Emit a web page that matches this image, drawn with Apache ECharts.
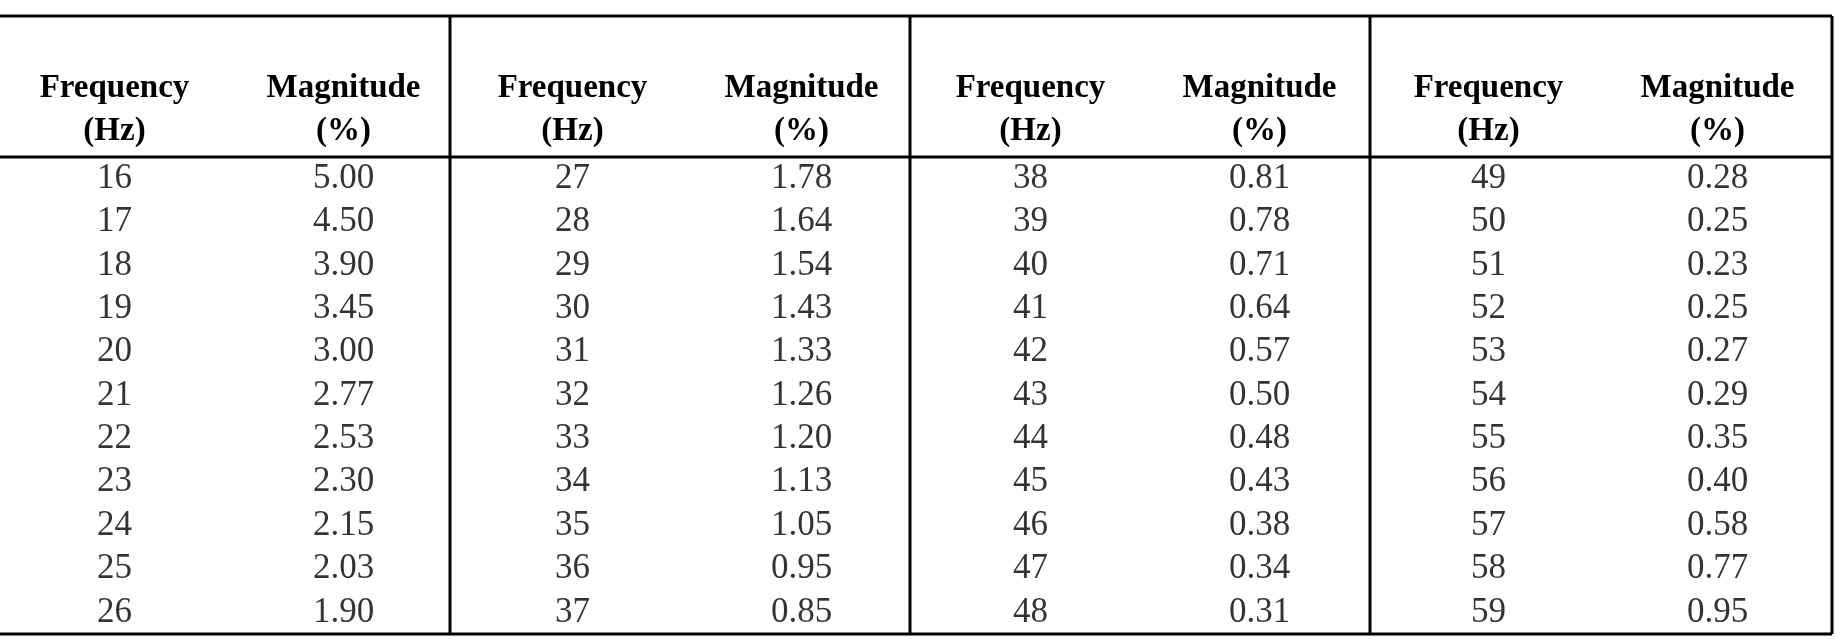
<!DOCTYPE html>
<html>
<head>
<meta charset="utf-8">
<script src="https://cdn.jsdelivr.net/npm/echarts@6/dist/echarts.min.js"></script>
<style>html,body{margin:0;padding:0;background:#fff}#main{width:1840px;height:639px}</style>
</head>
<body>
<div id="main"></div>
<script>
var headers = ['Frequency\n(Hz)', 'Magnitude\n(%)', 'Frequency\n(Hz)', 'Magnitude\n(%)',
               'Frequency\n(Hz)', 'Magnitude\n(%)', 'Frequency\n(Hz)', 'Magnitude\n(%)'];
var freq1 = [16, 17, 18, 19, 20, 21, 22, 23, 24, 25, 26];
var mag1 = [5.00, 4.50, 3.90, 3.45, 3.00, 2.77, 2.53, 2.30, 2.15, 2.03, 1.90];
var freq2 = [27, 28, 29, 30, 31, 32, 33, 34, 35, 36, 37];
var mag2 = [1.78, 1.64, 1.54, 1.43, 1.33, 1.26, 1.20, 1.13, 1.05, 0.95, 0.85];
var freq3 = [38, 39, 40, 41, 42, 43, 44, 45, 46, 47, 48];
var mag3 = [0.81, 0.78, 0.71, 0.64, 0.57, 0.50, 0.48, 0.43, 0.38, 0.34, 0.31];
var freq4 = [49, 50, 51, 52, 53, 54, 55, 56, 57, 58, 59];
var mag4 = [0.28, 0.25, 0.23, 0.25, 0.27, 0.29, 0.35, 0.40, 0.58, 0.77, 0.95];

var columns = [freq1, mag1, freq2, mag2, freq3, mag3, freq4, mag4];
var rows = freq1.map(function (v, i) { return 'r' + i; });

var cells = [];
columns.forEach(function (col, c) {
    col.forEach(function (v, r) {
        cells.push({ value: [c, r], label: c % 2 ? v.toFixed(2) : String(v) });
    });
});

var myChart = echarts.init(document.getElementById('main'));
var line = function (x1, y1, x2, y2) {
    return { type: 'line', shape: { x1: x1, y1: y1, x2: x2, y2: y2 }, style: { stroke: '#000', lineWidth: 3 } };
};
var option = {
    animation: false,
    grid: { left: -16, width: 1848, top: 157, height: 477 },
    xAxis: {
        type: 'category', position: 'top', data: headers.map(function (h, i) { return i; }),
        axisLine: { show: false }, axisTick: { show: false }, splitLine: { show: false },
        axisLabel: {
            formatter: function (v) { return headers[v]; },
            fontFamily: 'Liberation Serif', fontWeight: 'bold', fontSize: 33, color: '#000',
            lineHeight: 43, margin: 4
        }
    },
    yAxis: { type: 'category', inverse: true, data: rows, show: false },
    series: [{
        type: 'scatter', symbolSize: 0, data: cells,
        label: {
            show: true, position: 'inside', color: '#000',
            fontFamily: 'Liberation Serif', fontSize: 35,
            formatter: function (p) { return p.data.label; }
        }
    }],
    graphic: [
        line(0, 16, 1832, 16),
        line(0, 157, 1832, 157),
        line(0, 634, 1832, 634),
        line(450, 16, 450, 634),
        line(910, 16, 910, 634),
        line(1370, 16, 1370, 634),
        line(1832, 16, 1832, 634)
    ]
};
myChart.setOption(option);
</script>
</body>
</html>
